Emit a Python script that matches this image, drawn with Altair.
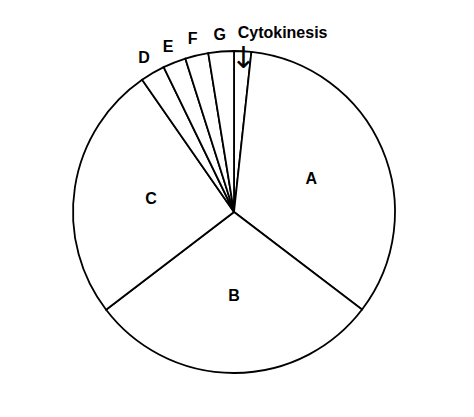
import altair as alt
import pandas as pd

# Slice names and their angular sizes (degrees)
phases = ["Cytokinesis", "A", "B", "C", "D", "E", "F", "G"]
degrees = [6.2, 121.1, 105.3, 92.6, 8.9, 8.3, 8.4, 9.2]
inner_labels = ["A", "B", "C"]
outer_labels = ["D", "E", "F", "G"]
arrow_label = ["Cytokinesis"]

df = pd.DataFrame({"phase": phases, "deg": degrees, "idx": list(range(len(phases)))})

FONT = "Liberation Sans"
theta_scale = alt.Scale(domain=[0, 360])

base = alt.Chart(df)

pie = base.mark_arc(radius=161, fill="white", stroke="black", strokeWidth=1.8).encode(
    theta=alt.Theta("deg:Q", stack=True, scale=theta_scale),
    order=alt.Order("idx:Q"),
)

mids = base.transform_window(
    cum="sum(deg)", sort=[alt.SortField("idx")], frame=[None, 0]
).transform_calculate(mid="datum.cum - datum.deg / 2")

inner = mids.transform_filter(
    alt.FieldOneOfPredicate(field="phase", oneOf=inner_labels)
).mark_text(radius=84, font=FONT, fontWeight="bold", fontSize=16, color="black").encode(
    theta=alt.Theta("mid:Q", stack=False, scale=theta_scale),
    text="phase:N",
)

outer = mids.transform_filter(
    alt.FieldOneOfPredicate(field="phase", oneOf=outer_labels)
).mark_text(radius=178, font=FONT, fontWeight="bold", fontSize=16, color="black").encode(
    theta=alt.Theta("mid:Q", stack=False, scale=theta_scale),
    text="phase:N",
)

cyto = mids.transform_filter(
    alt.FieldOneOfPredicate(field="phase", oneOf=arrow_label)
).mark_text(radius=179, align="left", dx=-6, font=FONT, fontWeight="bold", fontSize=16, color="black").encode(
    theta=alt.Theta("mid:Q", stack=False, scale=theta_scale),
    text="phase:N",
)

arrow = mids.transform_filter(
    alt.FieldOneOfPredicate(field="phase", oneOf=arrow_label)
).mark_text(radius=153, dx=1, font="DejaVu Sans", fontSize=30, color="black", text="↓").encode(
    theta=alt.Theta("mid:Q", stack=False, scale=theta_scale),
)

chart = alt.layer(pie, inner, outer, cyto, arrow).properties(
    width=452, height=408, padding=0, autosize="none"
).configure_view(strokeWidth=0)

chart.save("out.html", embed_options={"renderer": "svg", "actions": False})
